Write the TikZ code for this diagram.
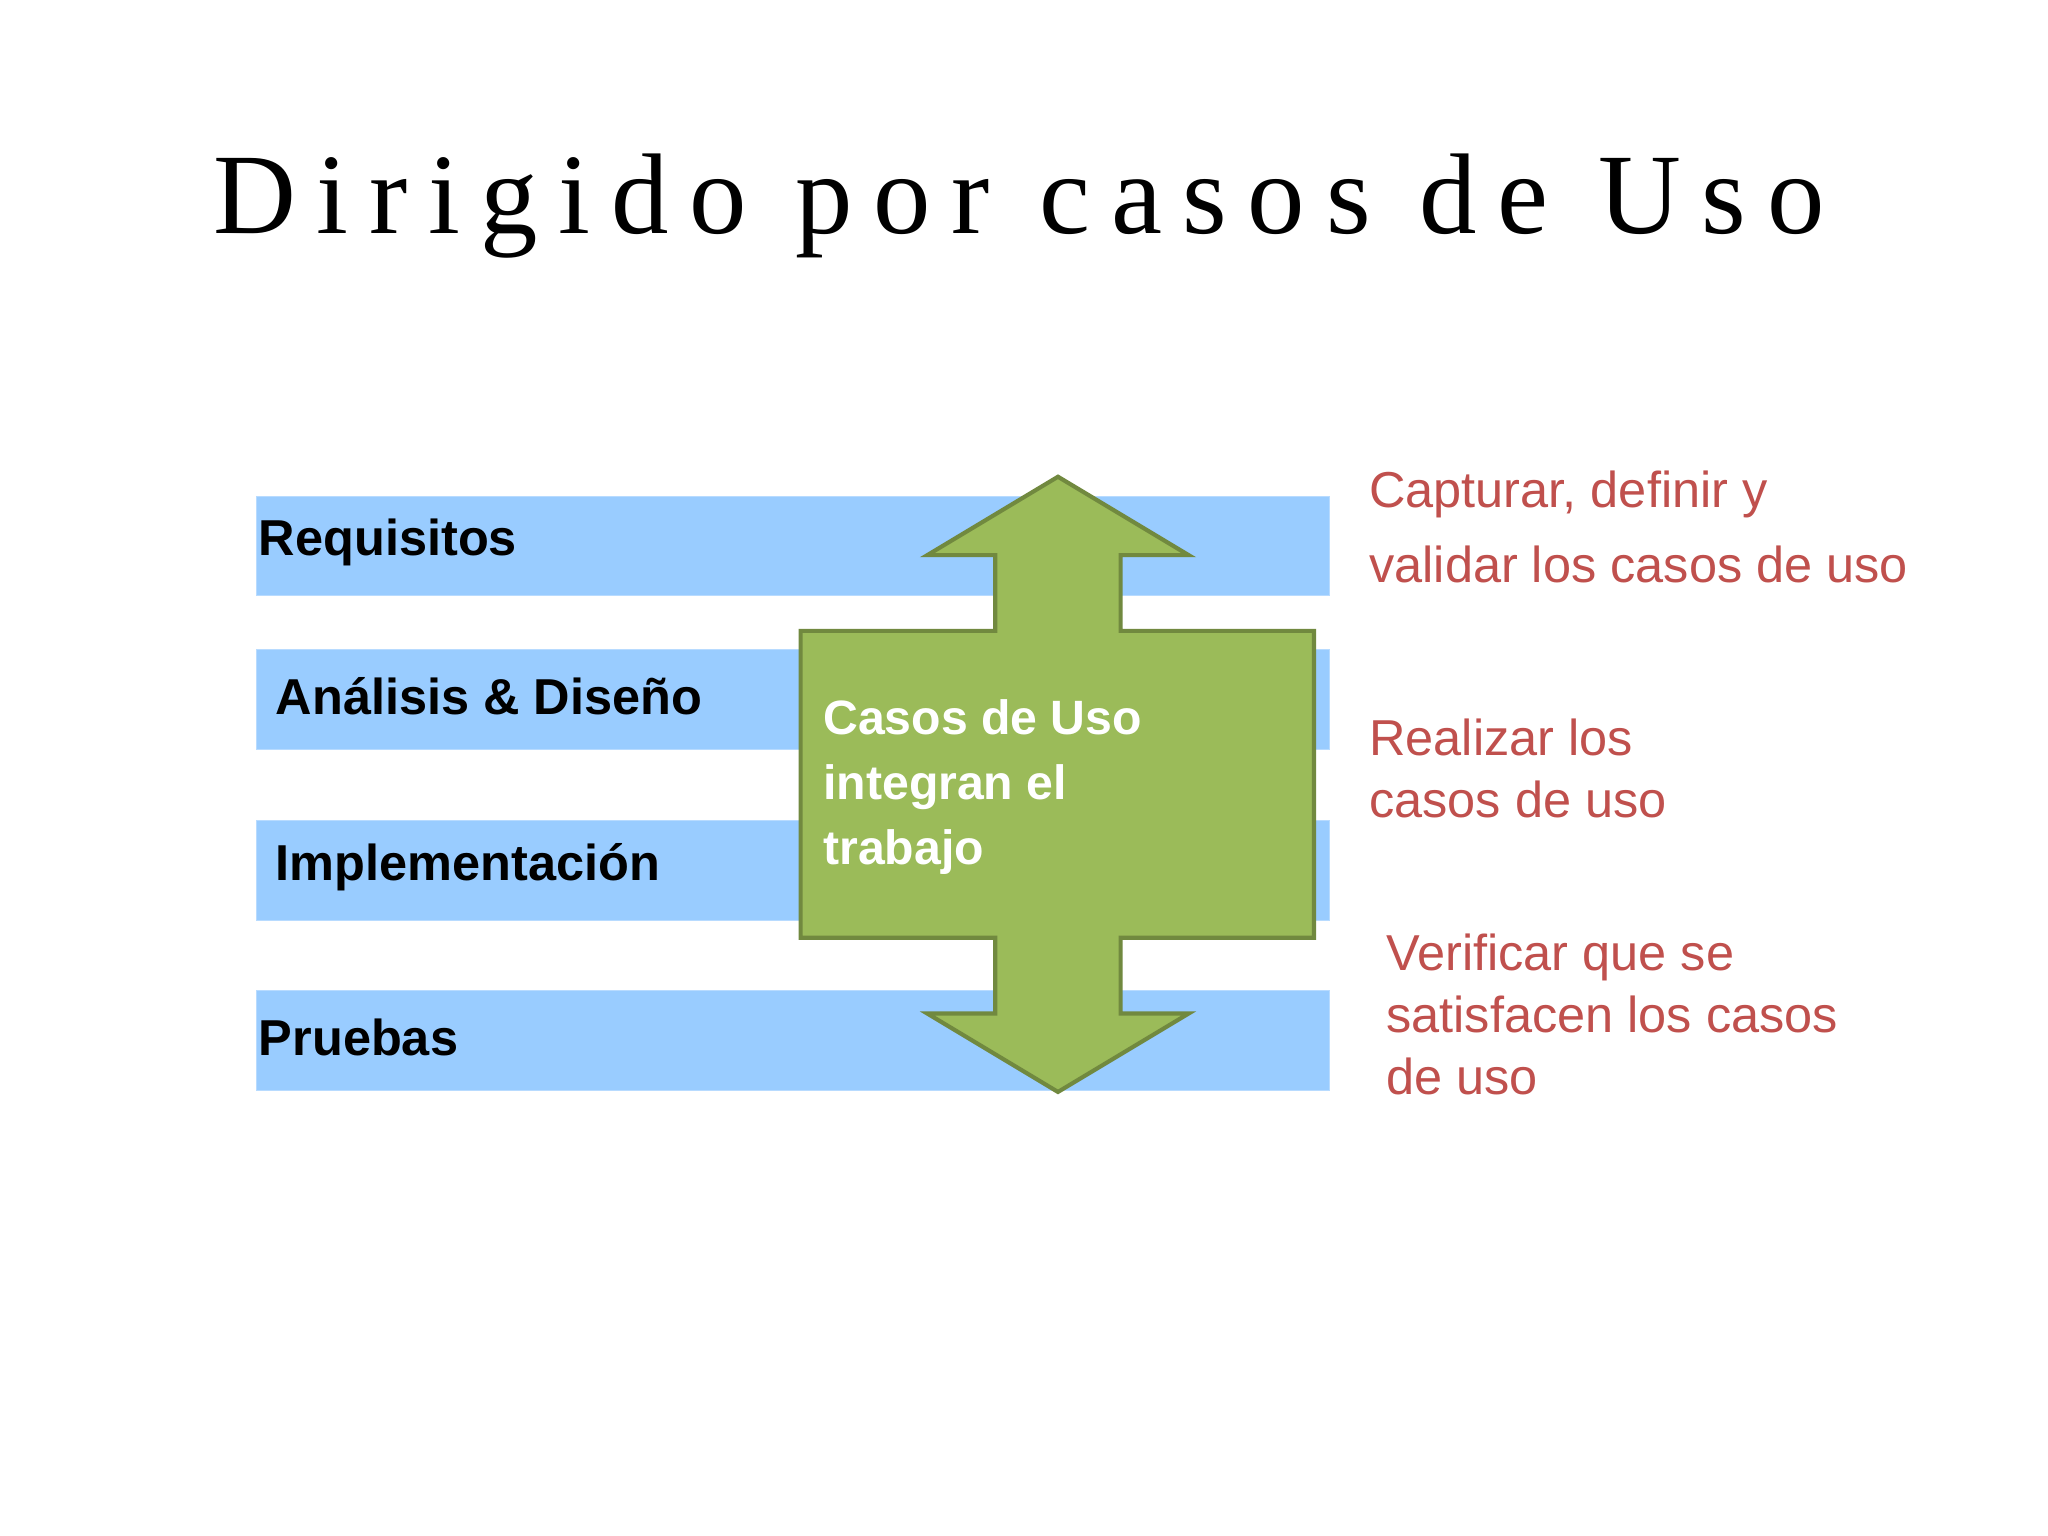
\documentclass[tikz,border=0pt]{standalone}
\usepackage{fontspec}
\setmainfont{Liberation Sans}
\newfontfamily\titlefont[LetterSpace=18]{Liberation Serif}
\definecolor{barblue}{HTML}{99CCFF}
\definecolor{agreen}{HTML}{9BBB59}
\definecolor{agreenb}{HTML}{71893F}
\definecolor{tred}{HTML}{C0504D}
\begin{document}
\begin{tikzpicture}[x=0.02cm,y=-0.02cm,
  bar/.style={fill=barblue,draw=barblue!70!white},
  blab/.style={anchor=west,font=\fontsize{22}{26}\selectfont\bfseries},
  rlab/.style={anchor=north west,align=left,text=tred,font=\fontsize{22}{27}\selectfont,inner sep=0pt}]
\useasboundingbox[fill=white] (0,0) rectangle (1568,1176);
\node[font=\titlefont\fontsize{50}{56}\selectfont] (title) at (780,158) {Dirigido por casos de Uso};
\fill[bar] (196,380) rectangle (1018,456);
\fill[bar] (196,497) rectangle (1018,574);
\fill[bar] (196,628) rectangle (1018,705);
\fill[bar] (196,758) rectangle (1018,835);
\node[blab] (r1) at (192,415) {Requisitos};
\node[blab] (r2) at (205,533) {Análisis \& Diseño};
\node[blab] (r3) at (205,664) {Implementación};
\node[blab] (r4) at (192,794) {Pruebas};
\draw[fill=agreen,draw=agreenb,line width=1.8pt,line join=miter]
 (810,365) -- (910,425) -- (858,425) -- (858,483) -- (1006,483) -- (1006,718) -- (858,718) -- (858,776) -- (910,776) -- (810,836) -- (710,776) -- (762,776) -- (762,718) -- (613,718) -- (613,483) -- (762,483) -- (762,425) -- (710,425) -- cycle;
\node[anchor=north west,align=left,text=white,inner sep=0pt,font=\fontsize{21}{28.5}\selectfont\bfseries] (c) at (630,535) {Casos de Uso\\integran el\\trabajo};
\node[rlab,font=\fontsize{22}{33}\selectfont] (t1) at (1048,360) {Capturar, definir y\\validar los casos de uso};
\node[rlab] (t2) at (1048,550) {Realizar los\\casos de uso};
\node[rlab] (t3) at (1061,715) {Verificar que se\\satisfacen los casos\\de uso};
\end{tikzpicture}
\end{document}
